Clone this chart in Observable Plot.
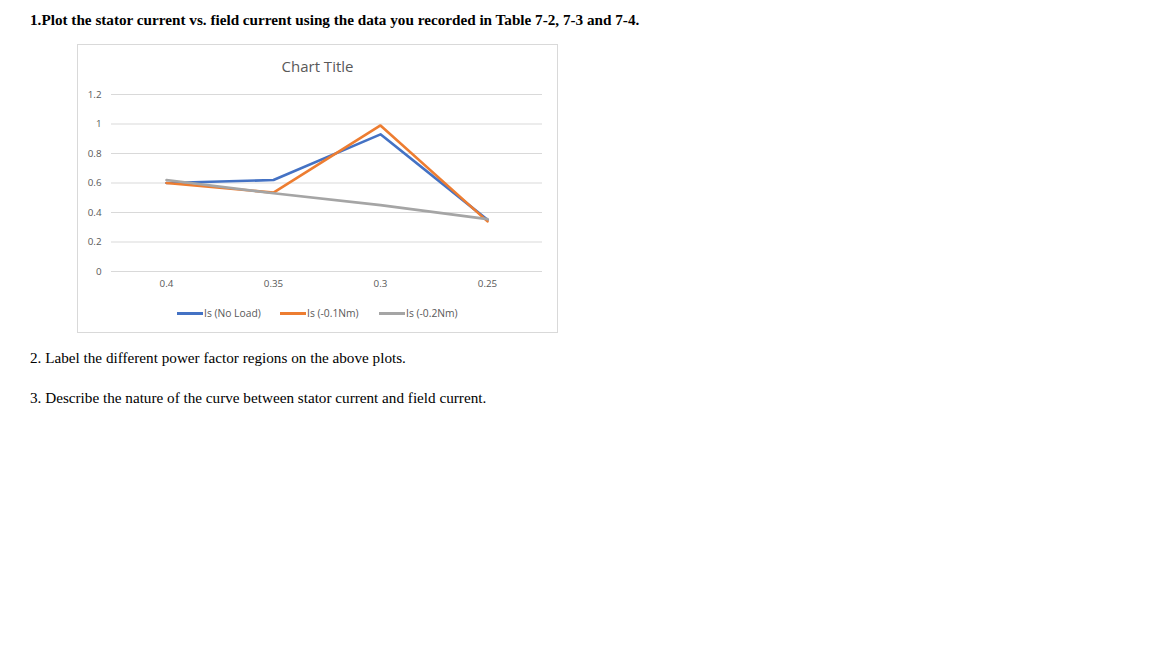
<!DOCTYPE html>
<html>
<head>
<meta charset="utf-8">
<script src="https://cdn.jsdelivr.net/npm/d3@7"></script>
<script src="https://cdn.jsdelivr.net/npm/@observablehq/plot@0.6"></script>
<style>
  html, body { margin: 0; padding: 0; background: #fff; width: 1152px; height: 648px; overflow: hidden; }
  .doc { position: absolute; left: 30px; font-family: "Liberation Serif", "Times New Roman", serif; font-size: 15.2px; color: #000; white-space: nowrap; line-height: 1; }
  #chartbox { position: absolute; left: 77px; top: 44px; width: 479px; height: 287px; border: 1px solid #d9d9d9; }
  #title { position: absolute; left: 0; width: 100%; top: 11px; text-align: center; font-family: "Open Sans", "Liberation Sans", sans-serif; font-size: 15px; color: #595959; }
  #plot { position: absolute; left: 0; top: 36px; }
  #legend { position: absolute; top: 261px; left: 0; width: 100%; font-family: "Open Sans", "Liberation Sans", sans-serif; font-size: 10.3px; color: #595959; }
  .item { position: absolute; display: flex; align-items: center; white-space: nowrap; }
  .swatch { display: inline-block; width: 26px; height: 3px; margin-right: 1px; }
</style>
</head>
<body>
<div class="doc" style="top:12px; font-weight:bold;">1.Plot the stator current vs. field current using the data you recorded in Table 7-2, 7-3 and 7-4.</div>
<div id="chartbox">
  <div id="title">Chart Title</div>
  <div id="plot"></div>
  <div id="legend"></div>
</div>
<div class="doc" style="top:350px;">2. Label the different power factor regions on the above plots.</div>
<div class="doc" style="top:390px;">3. Describe the nature of the curve between stator current and field current.</div>
<script>
const categories = ["0.4", "0.35", "0.3", "0.25"];
const isNoLoad = [0.60, 0.62, 0.93, 0.35];
const isMinus01 = [0.60, 0.535, 0.99, 0.34];
const isMinus02 = [0.62, 0.53, 0.45, 0.355];
const seriesNames = ["Is (No Load)", "Is (-0.1Nm)", "Is (-0.2Nm)"];
const seriesColors = ["#4472C4", "#ED7D31", "#A5A5A5"];
const yTicks = [0, 0.2, 0.4, 0.6, 0.8, 1, 1.2];

const allSeries = [isNoLoad, isMinus01, isMinus02];
const rows = [];
allSeries.forEach((vals, s) => {
  vals.forEach((v, i) => rows.push({ series: seriesNames[s], cat: categories[i], value: v }));
});

const fmt = d => `${+d.toFixed(1)}`;

const chart = Plot.plot({
  width: 479,
  height: 214,
  marginLeft: 33,
  marginRight: 15,
  marginTop: 13,
  marginBottom: 24,
  style: { fontFamily: "'Open Sans', 'Liberation Sans', sans-serif", fontSize: "9.8px", color: "#595959", background: "transparent" },
  x: { type: "point", domain: categories, padding: 0.5, label: null },
  y: { domain: [0, 1.2], ticks: yTicks, tickFormat: fmt, label: null },
  color: { domain: seriesNames, range: seriesColors },
  marks: [
    Plot.gridY(yTicks, { stroke: "#d9d9d9", strokeOpacity: 1, strokeWidth: 1 }),
    Plot.axisY({ ticks: yTicks, tickSize: 0, tickPadding: 10, tickFormat: fmt, fill: "#595959", label: null }),
    Plot.axisX({ tickSize: 0, tickPadding: 9, fill: "#595959", label: null }),
    ...seriesNames.map(name =>
      Plot.line(rows.filter(r => r.series === name), {
        x: "cat", y: "value", stroke: "series", strokeWidth: 2.6, strokeLinejoin: "round", strokeLinecap: "round"
      })
    )
  ]
});
document.getElementById("plot").appendChild(chart);

const legendPositions = [99, 202, 301];
const legend = document.getElementById("legend");
seriesNames.forEach((name, i) => {
  const item = document.createElement("div");
  item.className = "item";
  item.style.left = legendPositions[i] + "px";
  const sw = document.createElement("span");
  sw.className = "swatch";
  sw.style.background = seriesColors[i];
  item.appendChild(sw);
  const t = document.createElement("span");
  t.textContent = name;
  item.appendChild(t);
  legend.appendChild(item);
});
</script>
</body>
</html>
